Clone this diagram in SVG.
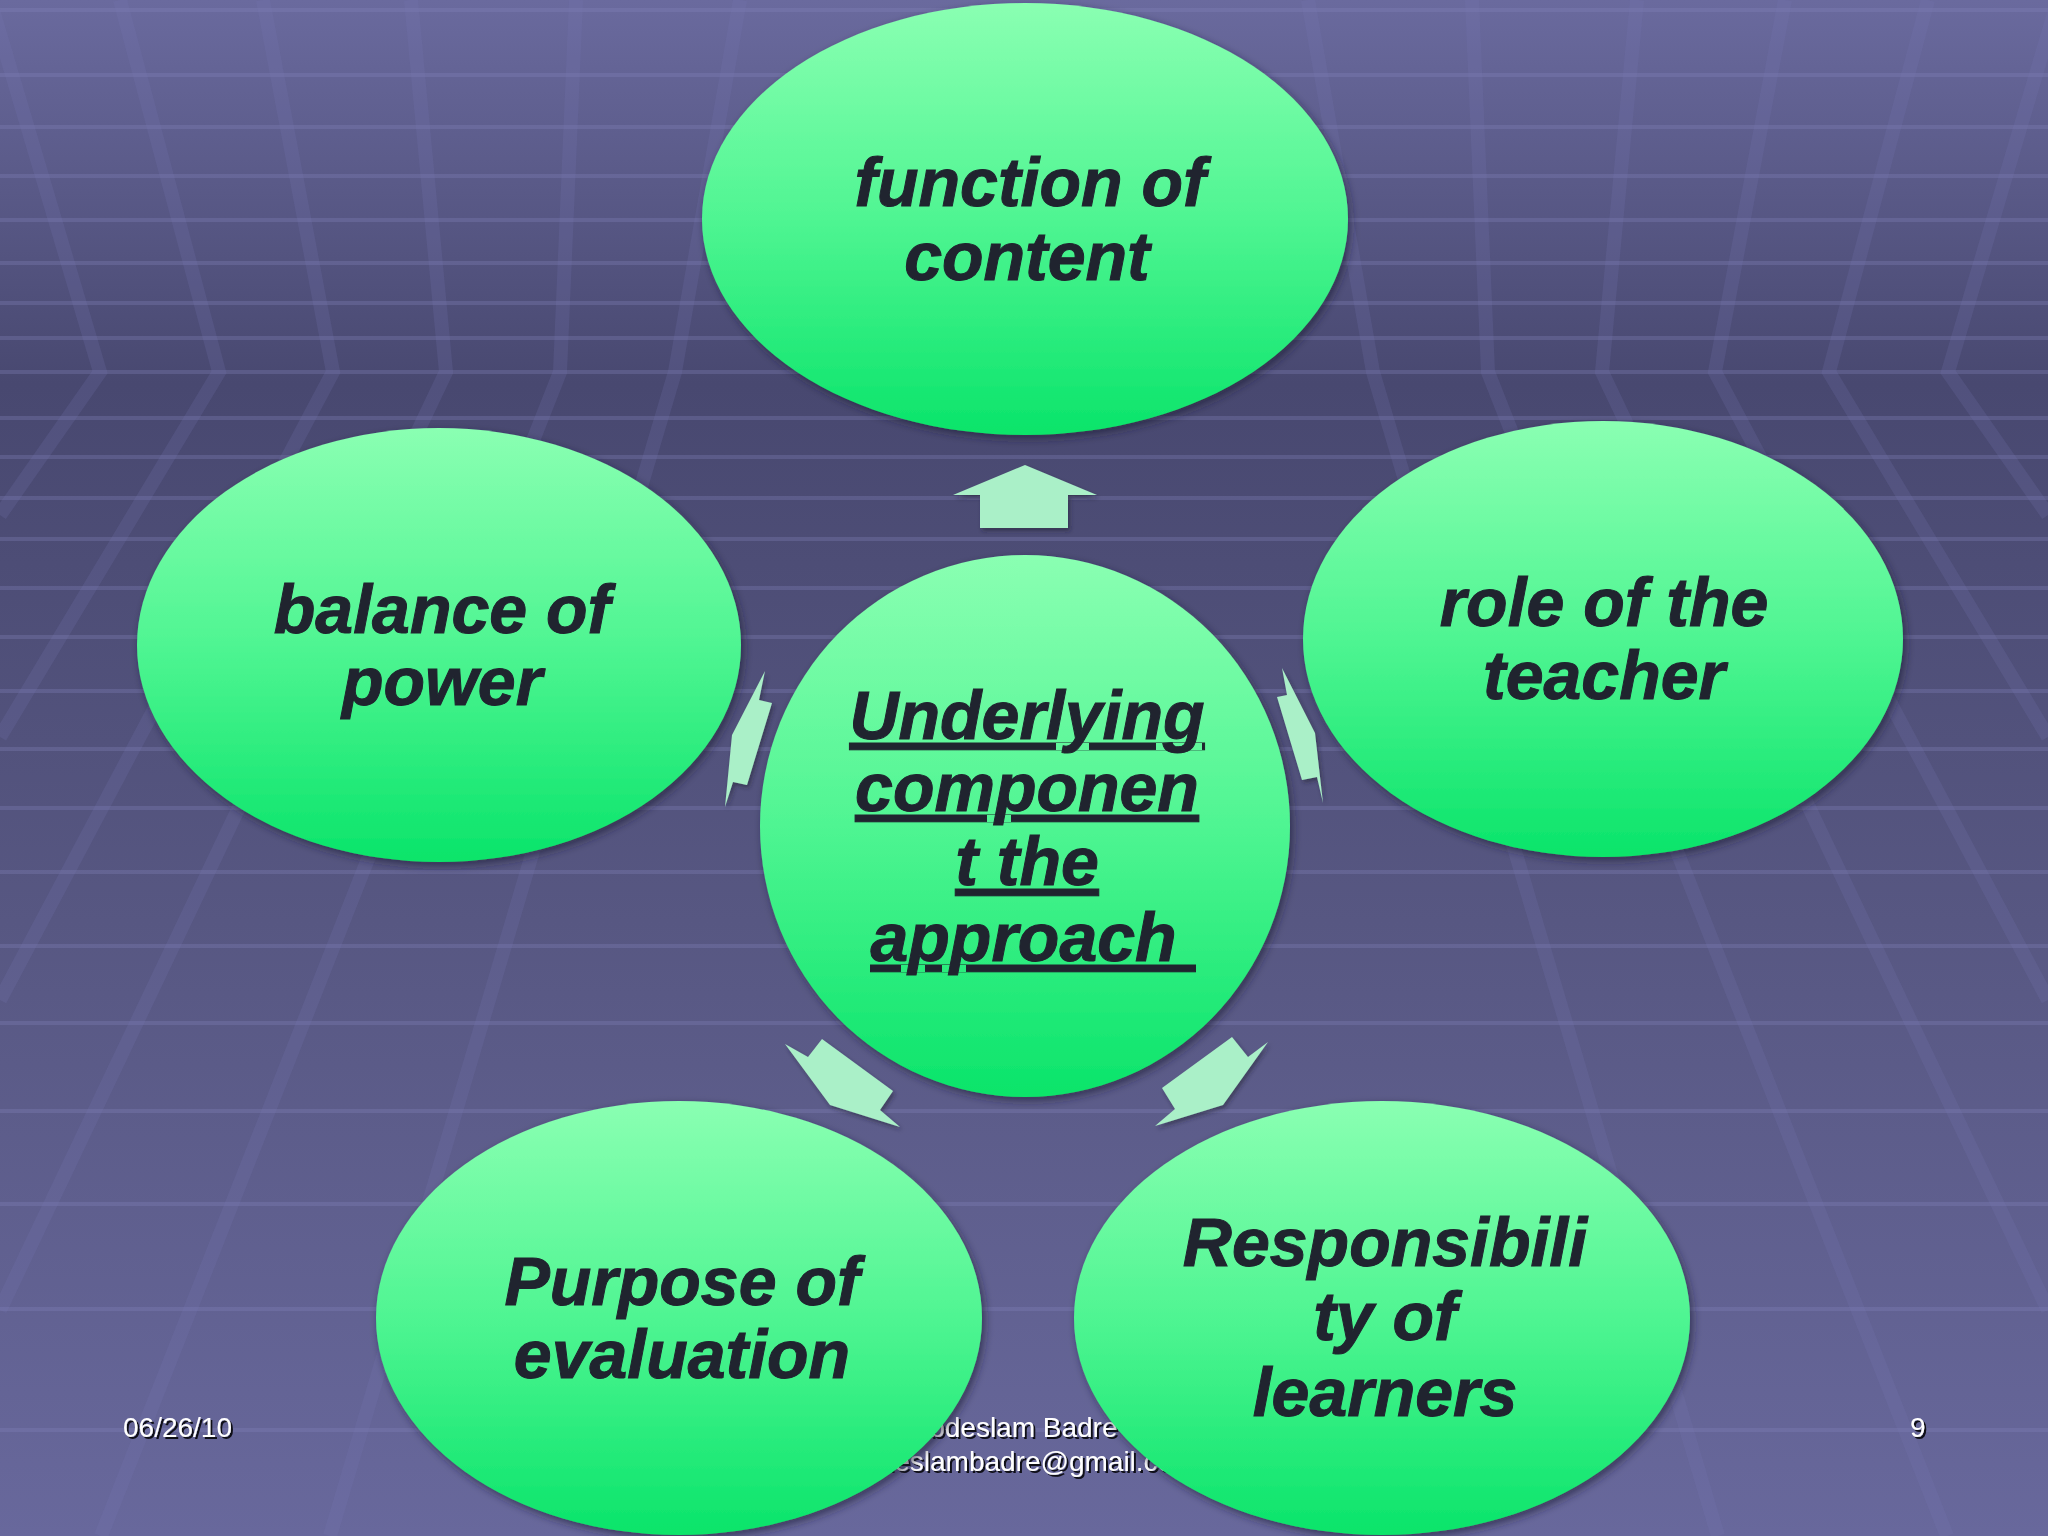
<svg xmlns="http://www.w3.org/2000/svg" width="2048" height="1536" viewBox="0 0 2048 1536">
<defs>
<linearGradient id="bg" x1="0" y1="0" x2="0" y2="1">
<stop offset="0" stop-color="#6a6a9e"/>
<stop offset="0.25" stop-color="#484870"/>
<stop offset="0.6" stop-color="#575782"/>
<stop offset="1" stop-color="#68689c"/>
</linearGradient>
<linearGradient id="green" x1="0" y1="0" x2="0" y2="1">
<stop offset="0" stop-color="#8affb2"/>
<stop offset="0.5" stop-color="#4ff592"/>
<stop offset="1" stop-color="#0ae46a"/>
</linearGradient>
<filter id="shadow" x="-10%" y="-10%" width="125%" height="125%">
<feDropShadow dx="3" dy="4" stdDeviation="4" flood-color="#1a1a33" flood-opacity="0.6"/>
</filter>
<filter id="ashadow" x="-20%" y="-20%" width="150%" height="150%">
<feDropShadow dx="2" dy="3" stdDeviation="2" flood-color="#1a1a33" flood-opacity="0.5"/>
</filter>
<filter id="tshadow" x="-10%" y="-30%" width="120%" height="160%">
<feDropShadow dx="2" dy="2" stdDeviation="0.6" flood-color="#000" flood-opacity="0.85"/>
</filter>
</defs>
<style>
.hl{stroke:#8585bd;stroke-opacity:.3;stroke-width:4}
.dg{stroke:#7a7ab2;stroke-opacity:.2;stroke-width:14;fill:none}
.node{fill:url(#green);filter:url(#shadow)}
.lbl{font-family:"Liberation Sans",Arial,sans-serif;font-weight:bold;font-style:italic;font-size:68px;fill:#20242f;stroke:#20242f;stroke-width:1;text-anchor:middle}
.ul{text-decoration:underline}
.ft{font-family:"Liberation Sans",Arial,sans-serif;font-size:28px;fill:#ffffff;filter:url(#tshadow)}
.arrow{fill:#aaf0c8;filter:url(#ashadow)}
</style>

<g id="background">
<rect x="0" y="0" width="2048" height="1536" fill="url(#bg)"/>
<g>
<line class="hl" x1="0" y1="10" x2="2048" y2="10"/>
<line class="hl" x1="0" y1="75" x2="2048" y2="75"/>
<line class="hl" x1="0" y1="127" x2="2048" y2="127"/>
<line class="hl" x1="0" y1="176" x2="2048" y2="176"/>
<line class="hl" x1="0" y1="220" x2="2048" y2="220"/>
<line class="hl" x1="0" y1="263" x2="2048" y2="263"/>
<line class="hl" x1="0" y1="303" x2="2048" y2="303"/>
<line class="hl" x1="0" y1="338" x2="2048" y2="338"/>
<line class="hl" x1="0" y1="372" x2="2048" y2="372"/>
<line class="hl" x1="0" y1="418" x2="2048" y2="418"/>
<line class="hl" x1="0" y1="457" x2="2048" y2="457"/>
<line class="hl" x1="0" y1="498" x2="2048" y2="498"/>
<line class="hl" x1="0" y1="539" x2="2048" y2="539"/>
<line class="hl" x1="0" y1="588" x2="2048" y2="588"/>
<line class="hl" x1="0" y1="637" x2="2048" y2="637"/>
<line class="hl" x1="0" y1="691" x2="2048" y2="691"/>
<line class="hl" x1="0" y1="749" x2="2048" y2="749"/>
<line class="hl" x1="0" y1="808" x2="2048" y2="808"/>
<line class="hl" x1="0" y1="872" x2="2048" y2="872"/>
<line class="hl" x1="0" y1="946" x2="2048" y2="946"/>
<line class="hl" x1="0" y1="1023" x2="2048" y2="1023"/>
<line class="hl" x1="0" y1="1111" x2="2048" y2="1111"/>
<line class="hl" x1="0" y1="1204" x2="2048" y2="1204"/>
<line class="hl" x1="0" y1="1309" x2="2048" y2="1309"/>
<line class="hl" x1="0" y1="1430" x2="2048" y2="1430"/>
</g>
<g>
<polyline class="dg" points="-10,0 100,372 0,515"/>
<polyline class="dg" points="120,0 219,372 0,737"/>
<polyline class="dg" points="263,0 333,372 0,1000"/>
<polyline class="dg" points="411,0 446,372 0,1310"/>
<polyline class="dg" points="576,0 560,372 101,1536"/>
<polyline class="dg" points="740,0 675,372 330,1536"/>
<polyline class="dg" points="2058,0 1948,372 2048,515"/>
<polyline class="dg" points="1928,0 1829,372 2048,737"/>
<polyline class="dg" points="1785,0 1715,372 2048,1000"/>
<polyline class="dg" points="1637,0 1602,372 2048,1310"/>
<polyline class="dg" points="1472,0 1488,372 1947,1536"/>
<polyline class="dg" points="1308,0 1373,372 1718,1536"/>
</g>
</g>

<g id="footer">
<text class="ft" x="123" y="1437">06/26/10</text>
<text class="ft" x="1014" y="1437" text-anchor="middle">Abdeslam Badre</text>
<text class="ft" x="1022" y="1471" text-anchor="middle">abdeslambadre@gmail.com</text>
<text class="ft" x="1910" y="1437">9</text>
</g>

<g id="connectors">
<polygon class="arrow" points="1025,465 1097,495 1068,495 1068,528 980,528 980,495 953,495"/>
<polygon class="arrow" points="765,671 759,700 772,703 747,785 733,782 725,807 732,735"/>
<polygon class="arrow" points="1282,668 1287,695 1277,697 1302,780 1317,777 1323,803 1315,733"/>
<polygon class="arrow" points="785,1044 808,1057 822,1039 893,1091 880,1110 900,1127 830,1105"/>
<polygon class="arrow" points="1268,1042 1248,1057 1232,1037 1162,1088 1175,1109 1155,1126 1223,1105"/>
</g>

<g id="node-function">
<ellipse class="node" cx="1025" cy="219" rx="323" ry="216"/>
<text class="lbl" x="1030" y="206">function of</text>
<text class="lbl" x="1027" y="280">content</text>
</g>

<g id="node-balance">
<ellipse class="node" cx="439" cy="645" rx="302" ry="217"/>
<text class="lbl" x="442" y="633">balance of</text>
<text class="lbl" x="442" y="705">power</text>
</g>

<g id="node-role">
<ellipse class="node" cx="1603" cy="639" rx="300" ry="218"/>
<text class="lbl" x="1604" y="626">role of the</text>
<text class="lbl" x="1604" y="699">teacher</text>
</g>

<g id="node-purpose">
<ellipse class="node" cx="679" cy="1318" rx="303" ry="217"/>
<text class="lbl" x="682" y="1305">Purpose of</text>
<text class="lbl" x="682" y="1378">evaluation</text>
</g>

<g id="node-responsibility">
<ellipse class="node" cx="1382" cy="1318" rx="308" ry="217"/>
<text class="lbl" x="1385" y="1266">Responsibili</text>
<text class="lbl" x="1385" y="1340">ty of</text>
<text class="lbl" x="1385" y="1416">learners</text>
</g>

<g id="node-center">
<ellipse class="node" cx="1025" cy="826" rx="265" ry="271"/>
<text class="lbl ul" x="1027" y="739">Underlying</text>
<text class="lbl ul" x="1027" y="811">componen</text>
<text class="lbl ul" x="1027" y="885">t the</text>
<text class="lbl ul" x="1033" y="961" xml:space="preserve">approach </text>
</g>
</svg>
